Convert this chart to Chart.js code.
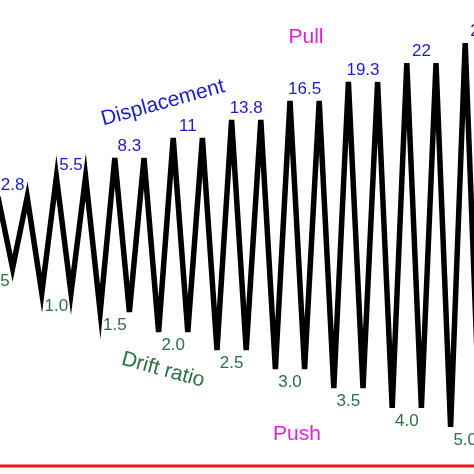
<!DOCTYPE html>
<html><head><meta charset="utf-8">
<script src="https://cdn.jsdelivr.net/npm/chart.js@4"></script>
<style>html,body{margin:0;padding:0;background:#fff}#c{width:474px;height:474px}</style>
</head><body><div id="c"><canvas id="chart"></canvas></div>
<script>
// displacement (mm) at each pull peak pair, drift ratio (%) at each push trough pair
const dispLabels = ['2.8', '5.5', '8.3', '11', '13.8', '16.5', '19.3', '22', '27'];
const driftLabels = ['0.5', '1.0', '1.5', '2.0', '2.5', '3.0', '3.5', '4.0', '5.0'];
// schematic amplitudes
const peakAmp = [35, 55, 74, 94, 112, 131, 150, 169, 189];
const troughAmp = [-36, -61, -80, -100, -118, -137, -156, -176, -195];
const step = 14.6; // half-cycle spacing in x units
const x0 = -2;

// build zigzag: each level = trough, peak, trough, peak
const pts = [];
for (let i = 0; i < peakAmp.length; i++) {
  const base = x0 + i * 4 * step;
  pts.push({x: base - step, y: troughAmp[i]});
  pts.push({x: base, y: peakAmp[i]});
  pts.push({x: base + step, y: troughAmp[i]});
  pts.push({x: base + 2 * step, y: peakAmp[i]});
}

const labelPlugin = {
  id: 'labels',
  afterDatasetsDraw(chart) {
    const c = chart.ctx, xs = chart.scales.x, ys = chart.scales.y;
    c.save();
    c.textAlign = 'center';
    c.font = '17px Arial, "Liberation Sans"';
    for (let i = 0; i < dispLabels.length; i++) {
      const base = x0 + i * 4 * step;
      c.fillStyle = '#1c1ccf';
      c.textBaseline = 'bottom';
      c.fillText(dispLabels[i], xs.getPixelForValue(base + step), ys.getPixelForValue(peakAmp[i]) - 3);
      c.fillStyle = '#2d6e43';
      c.textBaseline = 'top';
      c.fillText(driftLabels[i], xs.getPixelForValue(base), ys.getPixelForValue(troughAmp[i]) + 5);
    }
    c.font = '21px Arial, "Liberation Sans"';
    c.fillStyle = '#e020d8';
    c.fillText('Pull', 306, 27);
    c.fillText('Push', 297, 424);
    c.save();
    c.translate(163, 103); c.rotate(-0.27);
    c.fillStyle = '#1c1ccf'; c.textBaseline = 'middle';
    c.fillText('Displacement', 0, 0);
    c.restore();
    c.save();
    c.translate(163, 370); c.rotate(0.27);
    c.fillStyle = '#2d6e43'; c.textBaseline = 'middle';
    c.fillText('Drift ratio', 0, 0);
    c.restore();
    c.restore();
  }
};

new Chart(document.getElementById('chart'), {
  type: 'line',
  data: {
    datasets: [
      {data: pts, borderColor: '#000', borderWidth: 5.5, pointRadius: 0, tension: 0, borderJoinStyle: 'miter'},
      {data: [{x: 0, y: -234}, {x: 474, y: -234}], borderColor: '#e81818', borderWidth: 3, pointRadius: 0}
    ]
  },
  options: {
    responsive: true,
    maintainAspectRatio: false,
    animation: false,
    layout: {padding: 0},
    plugins: {legend: {display: false}, tooltip: {enabled: false}},
    scales: {
      x: {type: 'linear', min: 0, max: 474, display: false},
      y: {min: -242, max: 232, display: false}
    }
  },
  plugins: [labelPlugin]
});
</script>
</body></html>
